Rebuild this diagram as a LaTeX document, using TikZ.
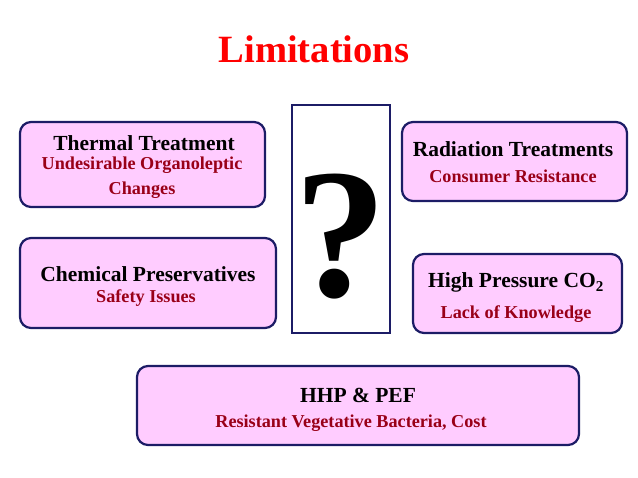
\documentclass[tikz,border=0pt]{standalone}
\usepackage{fontspec}
\setmainfont{Liberation Serif}
\definecolor{panelpink}{HTML}{FFCCFF}
\definecolor{panelnavy}{HTML}{1C1C66}
\definecolor{notered}{HTML}{990018}
\definecolor{titlered}{HTML}{FF0000}

\begin{document}
\begin{tikzpicture}[x=1pt, y=-1pt,
	panel/.style={draw=panelnavy, line width=2.2pt, fill=panelpink, rounded corners=11pt, inner sep=0pt},
	head/.style={anchor=base, inner sep=0pt, font=\fontsize{21.5}{23}\selectfont\bfseries, text=black},
	note/.style={anchor=base, inner sep=0pt, font=\fontsize{18.2}{20}\selectfont\bfseries, text=notered}]
		%%%%% START %%%%%
		
		\useasboundingbox (0, 0) rectangle (638, 478);
		
		\node[anchor=base, inner sep=0pt, text=titlered, font=\fontsize{38.6}{40}\selectfont\bfseries] (title) at (314, 63) {Limitations};
		
		% panels
		\node[panel, minimum width=245pt, minimum height=85pt] (thermal) at (142.5, 164.5) {};
		\node[panel, minimum width=256pt, minimum height=90pt] (chemical) at (148, 283) {};
		\node[panel, minimum width=225pt, minimum height=79pt] (radiation) at (514.5, 161.5) {};
		\node[panel, minimum width=209pt, minimum height=79pt] (pressure) at (517.5, 293.5) {};
		\node[panel, minimum width=442pt, minimum height=79pt] (hhp) at (358, 405.5) {};
		
		\node[draw=panelnavy, line width=2pt, fill=white, minimum width=98pt, minimum height=228pt, inner sep=0pt] (query) at (341, 219) {};
		\node[anchor=base, inner sep=0pt, font=\fontsize{185}{185}\selectfont\bfseries] (qmark) at (341, 297) {?};
		
		% texts
		\node[head] (thermalhead) at (144, 151) {Thermal Treatment};
		\node[note] (thermalnote) at (142, 170) {Undesirable Organoleptic};
		\node[note] (thermalnote2) at (142, 195) {Changes};
		
		\node[head] (chemicalhead) at (148, 282) {Chemical Preservatives};
		\node[note] (chemicalnote) at (146, 303) {Safety Issues};
		
		\node[head] (radiationhead) at (513, 157) {Radiation Treatments};
		\node[note] (radiationnote) at (513, 183) {Consumer Resistance};
		
		\node[head] (pressurehead) at (516, 288) {High Pressure CO\textsubscript{2}};
		\node[note] (pressurenote) at (516, 319) {Lack of Knowledge};
		
		\node[head] (hhphead) at (358, 403) {HHP \& PEF};
		\node[note] (hhpnote) at (351, 428) {Resistant Vegetative Bacteria, Cost};
		
		%%%%% END %%%%%
\end{tikzpicture}
\end{document}
